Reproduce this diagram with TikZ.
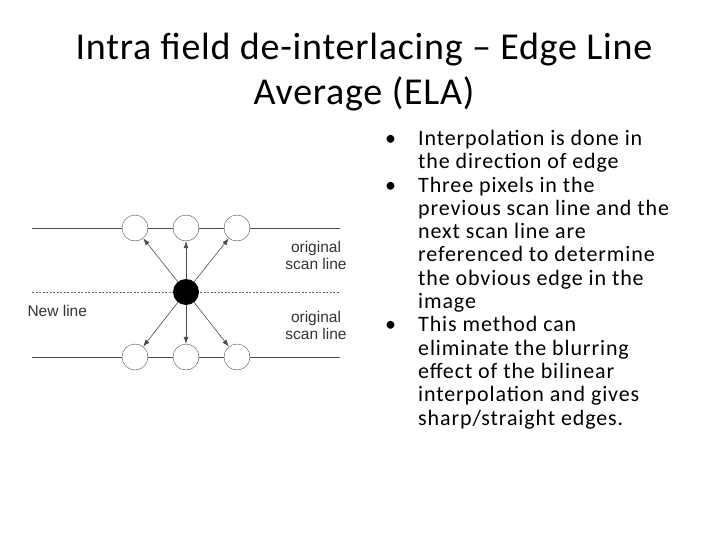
\documentclass[tikz,border=0pt]{standalone}
\usepackage{fontspec}
\setmainfont{Carlito}
\newfontfamily\titlef[LetterSpace=2]{Carlito}
\newfontfamily\bodyf[LetterSpace=4]{Carlito}
\newfontfamily\arialf{Liberation Sans}
\begin{document}
\begin{tikzpicture}[x=1pt,y=-1pt,
  pix/.style={circle,draw=black!70,fill=white,minimum size=26pt,inner sep=0pt},
  cen/.style={circle,fill=black,minimum size=26pt,inner sep=0pt},
  arr/.style={-{Latex[length=7pt,width=5pt]},draw=black!70,line width=0.6pt},
  lbl/.style={font=\arialf\fontsize{15.5}{17}\selectfont,text=black!80,align=center},
  bul/.style={font=\bodyf\fontsize{22}{23.3}\selectfont,align=left,anchor=north west,inner sep=0pt}]
\usetikzlibrary{arrows.meta}
\useasboundingbox (0,0) rectangle (728,546);
\node[font=\titlef\fontsize{38}{45}\selectfont,align=center] (title) at (364,72) {Intra field de-interlacing – Edge Line\\Average (ELA)};
\coordinate (tl) at (32,228); \coordinate (tr) at (340,228);
\coordinate (bl) at (32,357); \coordinate (br) at (340,357);
\coordinate (dl) at (32,292); \coordinate (dr) at (340,292);
\draw[black!70] (tl) -- (tr);
\draw[black!70] (bl) -- (br);
\draw[black!60,dashed,dash pattern=on 2pt off 1.5pt] (dl) -- (dr);
\node[pix] (t1) at (135,228) {};
\node[pix] (t2) at (186,228) {};
\node[pix] (t3) at (237,228) {};
\node[pix] (b1) at (135,357) {};
\node[pix] (b2) at (186,357) {};
\node[pix] (b3) at (237,357) {};
\node[cen] (c) at (186,292) {};
\foreach \n in {t1,t2,t3,b1,b2,b3} \draw[arr] (c) -- (\n);
\node[lbl] (o1) at (316,255) {original\\scan line};
\node[lbl] (o2) at (316,325) {original\\scan line};
\node[lbl,anchor=west] (nl) at (24,311) {New line};
\node[bul] (b) at (385,130) {%
\makebox[33pt][l]{•}Interpolation is done in\\
\hspace*{33pt}the direction of edge\\
\makebox[33pt][l]{•}Three pixels in the\\
\hspace*{33pt}previous scan line and the\\
\hspace*{33pt}next scan line are\\
\hspace*{33pt}referenced to determine\\
\hspace*{33pt}the obvious edge in the\\
\hspace*{33pt}image\\
\makebox[33pt][l]{•}This method can\\
\hspace*{33pt}eliminate the blurring\\
\hspace*{33pt}effect of the bilinear\\
\hspace*{33pt}interpolation and gives\\
\hspace*{33pt}sharp/straight edges.};
\end{tikzpicture}
\end{document}
